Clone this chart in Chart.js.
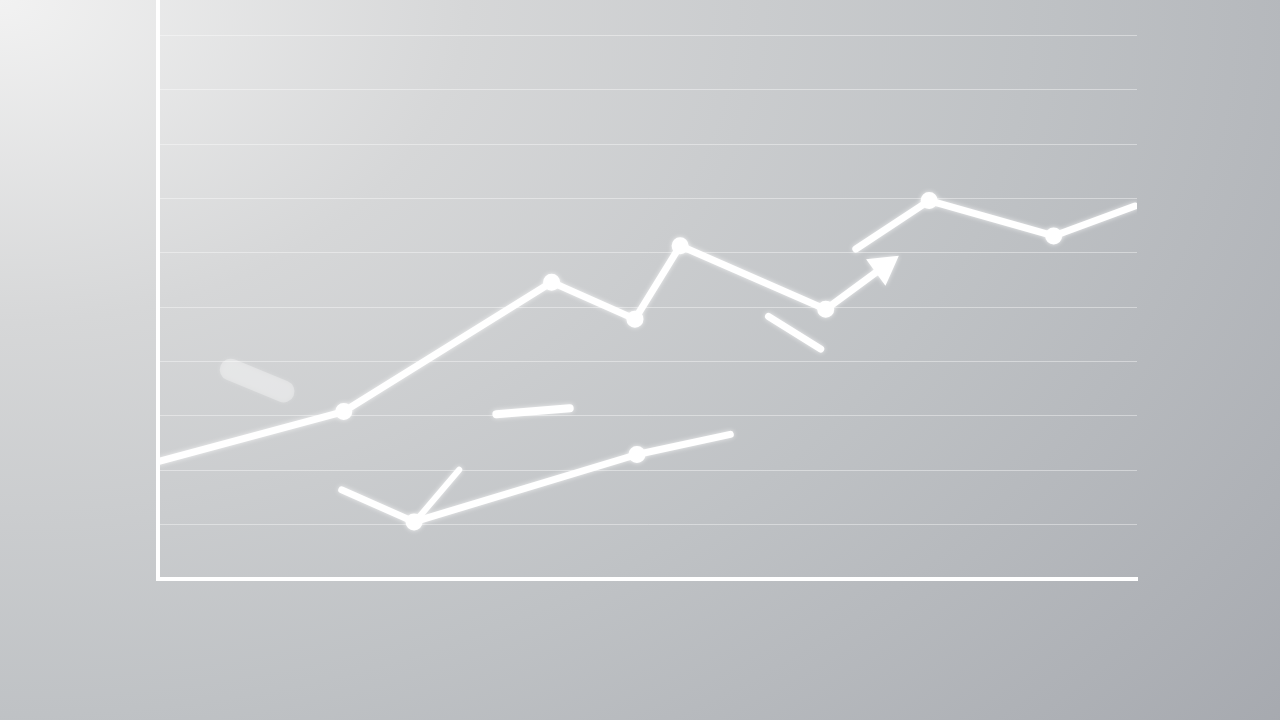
<!DOCTYPE html>
<html>
<head>
<meta charset="utf-8">
<script src="https://cdn.jsdelivr.net/npm/chart.js@4"></script>
<style>
  html, body { margin: 0; padding: 0; }
  body {
    width: 1280px; height: 720px; overflow: hidden;
    background: radial-gradient(ellipse 130% 160% at 0% 0%, #f2f2f2 0%, #d6d7d8 28%, #bfc2c5 62%, #a6a9af 100%);
  }
  #wrap { width: 1280px; height: 720px; }
</style>
</head>
<body>
<div id="wrap"><canvas id="chart"></canvas></div>
<script>
// values (x in arbitrary time units, y in grid units)
const mainX = [0, 3.7, 7.84, 9.5, 10.4, 13.3];
const mainY = [2.16, 3.08, 5.46, 4.78, 6.13, 4.96];
const arrowX = [13.3, 14.45];
const arrowY = [4.96, 5.74];
const upperX = [13.9, 15.36, 17.84, 19.46];
const upperY = [6.07, 6.96, 6.31, 6.86];
const lowerX = [3.66, 5.1, 9.54, 11.4];
const lowerY = [1.64, 1.05, 2.29, 2.66];
const branchX = [5.2, 6.0];
const branchY = [1.14, 2.01];
const dashAX = [6.74, 8.2];
const dashAY = [3.03, 3.14];
const dashBX = [12.16, 13.2];
const dashBY = [4.83, 4.23];
const glowX = [1.45, 2.5];
const glowY = [3.85, 3.45];
const yTicks = [0, 1, 2, 3, 4, 5, 6, 7, 8, 9, 10];

const pts = (xs, ys) => xs.map((x, i) => ({ x: x, y: ys[i] }));

function line(xs, ys, opts) {
  return Object.assign({
    data: pts(xs, ys),
    borderColor: "#ffffff",
    backgroundColor: "#ffffff",
    borderWidth: 7,
    borderCapStyle: "round",
    borderJoinStyle: "round",
    pointRadius: 0,
    tension: 0,
    fill: false,
  }, opts || {});
}

const glowPlugin = {
  id: "glow",
  beforeDatasetsDraw(chart) {
    chart.ctx.save();
    chart.ctx.shadowColor = "rgba(255,255,255,0.7)";
    chart.ctx.shadowBlur = 5;
  },
  afterDatasetsDraw(chart) {
    chart.ctx.restore();
  },
};

const ctx = document.getElementById("chart").getContext("2d");
new Chart(ctx, {
  type: "line",
  data: {
    datasets: [
      line(glowX, glowY, { borderColor: "rgba(255,255,255,0.3)", borderWidth: 22 }),
      line(mainX, mainY, { pointRadius: [0, 5, 5, 5, 5, 5] }),
      line(arrowX, arrowY, {
        pointRadius: [0, 12],
        pointStyle: "triangle",
        rotation: 54,
      }),
      line(upperX, upperY, { pointRadius: [0, 5, 5, 0] }),
      line(lowerX, lowerY, { pointRadius: [0, 5, 5, 0] }),
      line(branchX, branchY, { borderWidth: 6 }),
      line(dashAX, dashAY, { borderWidth: 8 }),
      line(dashBX, dashBY, { borderWidth: 7 }),
    ],
  },
  options: {
    responsive: true,
    maintainAspectRatio: false,
    animation: false,
    layout: { autoPadding: false, padding: { left: 158, right: 143, top: 0, bottom: 141 } },
    plugins: { legend: { display: false }, tooltip: { enabled: false } },
    scales: {
      x: {
        type: "linear",
        min: 0,
        max: 19.5,
        ticks: { display: false },
        grid: { display: false, drawTicks: false },
        border: { display: true, color: "#ffffff", width: 4 },
      },
      y: {
        min: 0,
        max: 10.65,
        afterBuildTicks: (scale) => {
          scale.ticks = yTicks.map((v) => ({ value: v }));
        },
        ticks: { display: false },
        grid: { color: "rgba(255,255,255,0.4)", lineWidth: 1, drawTicks: false },
        border: { display: true, color: "#ffffff", width: 4 },
      },
    },
  },
  plugins: [glowPlugin],
});
</script>
</body>
</html>
